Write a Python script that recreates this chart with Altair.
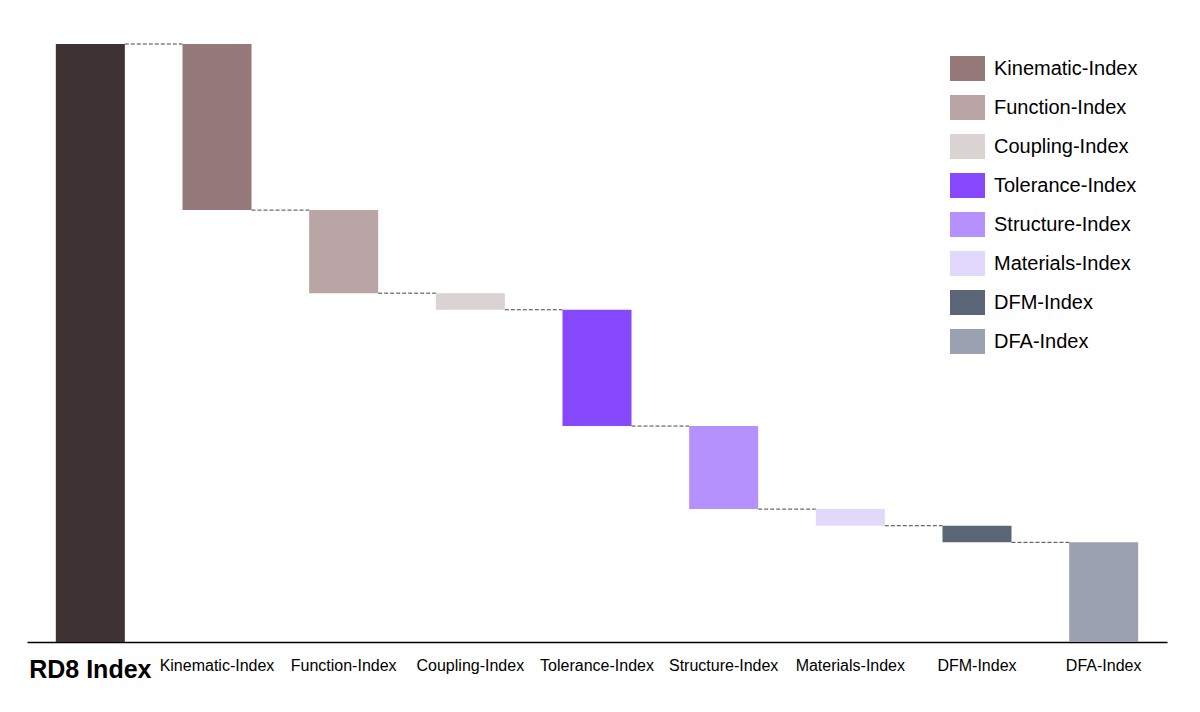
import altair as alt
import pandas as pd

# Waterfall of the RD8 index broken down into its eight sub-indices
categories = ["RD8 Index", "Kinematic-Index", "Function-Index", "Coupling-Index",
              "Tolerance-Index", "Structure-Index", "Materials-Index", "DFM-Index", "DFA-Index"]
total = 36
decrements = [10, 5, 1, 7, 5, 1, 1]          # Kinematic .. DFM
final_value = 6                              # DFA-Index (remaining part)
colors = ["#3f3232", "#967a7a", "#b9a5a5", "#dbd3d1", "#8648fd",
          "#b491fc", "#e2d8fb", "#5a6577", "#9aa2b1"]

# running levels of the waterfall
rows = [{"cat": categories[0], "start": 0, "end": total}]
level = total
for cat, d in zip(categories[1:8], decrements):
    rows.append({"cat": cat, "start": level - d, "end": level})
    level -= d
rows.append({"cat": categories[8], "start": 0, "end": final_value})
bars = pd.DataFrame(rows)

# dashed connectors between consecutive bars
conn = []
levels = [total]
for d in decrements:
    levels.append(levels[-1] - d)
for i, lv in enumerate(levels):
    conn.append({"a": categories[i], "b": categories[i + 1], "y": lv})
connectors = pd.DataFrame(conn)

x_scale = alt.Scale(domain=categories, paddingInner=0.455, paddingOuter=0.2275)
y_scale = alt.Scale(domain=[0, total], nice=False, zero=True)
half_bar = 34.5  # half of the bar width, so connectors run edge to edge

rules = alt.Chart(connectors).mark_rule(
    color="#444444", strokeWidth=1, strokeDash=[4, 2],
    xOffset=half_bar, x2Offset=-half_bar,
).encode(
    x=alt.X("a:N", scale=x_scale, sort=categories),
    x2="b:N",
    y=alt.Y("y:Q", scale=y_scale, axis=None),
)

bar_layer = alt.Chart(bars).mark_bar().encode(
    x=alt.X("cat:N", scale=x_scale, sort=categories, title=None,
            axis=alt.Axis(
                labelAngle=0, labelAlign="center", domainColor="#000000", domainWidth=1.5,
                ticks=False, labelBaseline="top", labelPadding=15, labelColor="#000000",
                labelFontSize={"condition": {"test": "datum.value == 'RD8 Index'", "value": 25}, "value": 16},
                labelFontWeight={"condition": {"test": "datum.value == 'RD8 Index'", "value": "bold"}, "value": "normal"},
            )),
    y=alt.Y("start:Q", scale=y_scale, axis=None),
    y2="end:Q",
    color=alt.Color("cat:N",
                    scale=alt.Scale(domain=categories, range=colors),
                    legend=alt.Legend(
                        values=categories[1:], title=None, orient="none",
                        legendX=923, legendY=7, padding=0,
                        symbolType="M-1,-0.714H1V0.714H-1Z", symbolSize=1225,
                        symbolStrokeWidth=0, symbolOpacity=1,
                        labelFontSize=20, labelOffset=9, rowPadding=9,
                        labelColor="#000000", labelLimit=300,
                    )),
)

chart = alt.layer(rules, bar_layer).properties(
    width=1140, height=598,
    autosize="none",
    padding={"left": 27, "top": 44, "right": 33, "bottom": 70},
    background="white",
).configure(font="Liberation Sans").configure_view(strokeWidth=0, stroke="transparent")

chart.save("out.html", embed_options={"renderer": "svg", "actions": False})
